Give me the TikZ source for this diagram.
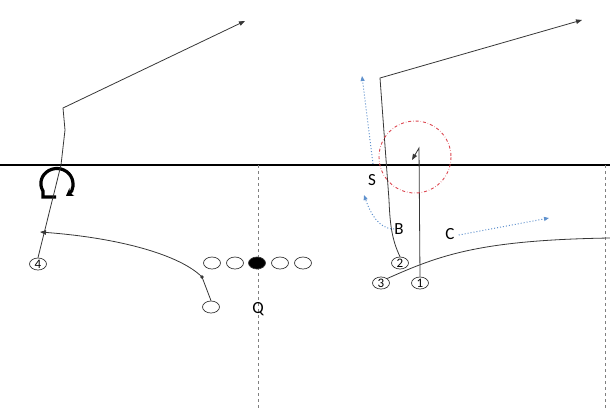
\documentclass[tikz,border=0pt]{standalone}
\usepackage{fontspec}
\setmainfont{Carlito}
\usetikzlibrary{arrows.meta,shapes.geometric}
\definecolor{routeblue}{RGB}{95,145,205}
\definecolor{zonered}{RGB}{220,70,80}
\definecolor{ink}{RGB}{55,55,55}
\begin{document}
\begin{tikzpicture}[x=1pt,y=-1pt,
  player/.style={draw=ink,ellipse,line width=0.7pt,minimum width=17pt,minimum height=12pt,inner sep=0pt,font=\fontsize{13}{13}\selectfont},
  lineman/.style={draw=ink,ellipse,line width=0.7pt,minimum width=17pt,minimum height=12pt,inner sep=0pt},
  route/.style={draw=ink,line width=0.8pt},
  tip/.style={-{Triangle[length=6pt,width=4.5pt]}},
  blueroute/.style={draw=routeblue,line width=1pt,dotted,-{Triangle[length=5pt,width=4pt]}},
  lbl/.style={font=\fontsize{17}{17}\selectfont,inner sep=0pt}]
\useasboundingbox (0,0) rectangle (610,410);
% line of scrimmage
\coordinate (losL) at (0,165);
\coordinate (losR) at (610,165);
\draw[black,line width=1.2pt] (losL) -- (losR);
% dashed lines
\coordinate (d1t) at (258,165); \coordinate (d1b) at (258,410);
\coordinate (d2t) at (605,165); \coordinate (d2b) at (605,410);
\draw[gray,dashed,line width=0.6pt] (d1t) -- (d1b);
\draw[gray,dashed,line width=0.6pt] (d2t) -- (d2b);
% offensive line
\node[lineman] (o1) at (212,263) {};
\node[lineman] (o2) at (235,263) {};
\node[lineman,fill=black] (c) at (257,263) {};
\node[lineman] (o4) at (280,263) {};
\node[lineman] (o5) at (303,263) {};
\node[lineman] (back) at (211,307) {};
\node[lbl] (q) at (258,309) {Q};
% players
\node[player] (r4) at (38,264) {4};
\node[player] (r1) at (420,283) {1};
\node[player] (r2) at (400,263) {2};
\node[player] (r3) at (381,283) {3};
% back route
\coordinate (bd) at (202,277);
\coordinate (bend) at (40,232);
\fill[ink] (bd) circle (1.8);
\draw[route] (back.north) -- (bd);
\draw[route,tip] (bd) .. controls (180,255) and (120,238) .. (bend);
% rotation symbol
\coordinate (rotc) at (57,184);
\draw[black,line width=3.2pt,line cap=butt,-{Stealth[length=7pt,width=9pt]}] (56,197) -- (43,197) -- (43,191) arc[start angle=150,end angle=415,x radius=16,y radius=15];
% route 4
\coordinate (c4a) at (63,108);
\coordinate (c4e) at (245,21);
\draw[route,tip] (r4.north) -- (61,165) -- (65,130) -- (c4a) -- (c4e);
% route 1
\coordinate (c1a) at (419,148);
\coordinate (c1e) at (412,160);
\draw[route,tip] (r1.north) -- (c1a) -- (c1e);
% route 2
\coordinate (c2a) at (380,78);
\coordinate (c2e) at (582,20);
\draw[route,tip] (r2.north) .. controls (392,240) and (390,225) .. (389,200) -- (c2a) -- (c2e);
% route 3
\coordinate (c3e) at (610,238);
\draw[route] (r3.north east) .. controls (440,255) and (480,240) .. (c3e);
% zone circle
\coordinate (zc) at (415,157);
\draw[zonered,dash dot,line width=0.9pt] (zc) circle (36);
% blue routes
\node[lbl] (s) at (372,180) {S};
\coordinate (se) at (362,76);
\draw[blueroute] (373,164) -- (se);
\node[lbl] (b) at (399,229) {B};
\coordinate (be) at (364,195);
\draw[blueroute] (b.west) .. controls (378,229) and (370,212) .. (be);
\node[lbl] (cc) at (450,234) {C};
\coordinate (ce) at (549,218);
\draw[blueroute] (cc.east) ++(4pt,-1pt) -- (ce);
\end{tikzpicture}
\end{document}
